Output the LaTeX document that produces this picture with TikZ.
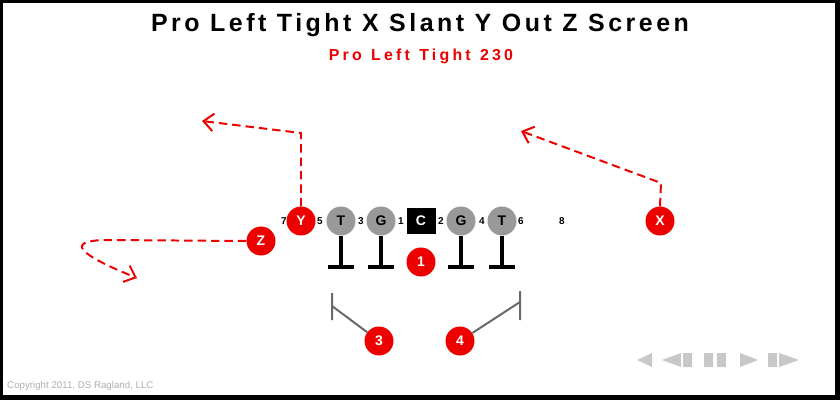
\documentclass[tikz,border=0pt]{standalone}
\usepackage{fontspec}
\setmainfont{Liberation Sans}
\usetikzlibrary{arrows.meta,positioning}
\definecolor{playred}{RGB}{236,0,0}
\definecolor{linegray}{RGB}{153,153,153}
\definecolor{rodgray}{RGB}{105,105,105}
\definecolor{navgray}{RGB}{200,200,200}
\definecolor{copygray}{RGB}{175,175,175}
\tikzset{off/.style={circle, fill=playred, text=white, inner sep=0pt, minimum size=0.87cm,
                     font=\fontsize{11.9}{12}\selectfont\bfseries},
         lineman/.style={circle, fill=linegray, text=black, inner sep=0pt, minimum size=0.87cm,
                     font=\fontsize{11.9}{12}\selectfont\bfseries},
         snap/.style={rectangle, fill=black, text=white, inner sep=0pt, minimum width=0.87cm,
                     minimum height=0.78cm, font=\fontsize{11.9}{12}\selectfont\bfseries},
         gap/.style={inner sep=0pt, font=\fontsize{8.5}{9}\selectfont\bfseries},
         route/.style={draw=playred, line width=1.7pt, dash pattern=on 7.2pt off 4.25pt,
                     -{Straight Barb[length=8.5pt,width=15pt,line width=1.7pt]}},
         block/.style={draw=black, line width=2.6pt},
         rod/.style={draw=rodgray, line width=1.7pt},
         nav/.style={fill=navgray}
}

\begin{document}
\begin{tikzpicture}[x=0.03cm, y=-0.03cm]
       \fill[black] (0,0) rectangle (840,400);
       \fill[white] (3,3) rectangle (835,395);
       \node[anchor=base] (title) at (420,32)
            {\fontsize{21.3}{22}\selectfont\bfseries\addfontfeature{LetterSpace=14}\spaceskip=9pt Pro Left Tight X Slant Y Out Z Screen};
       \node[anchor=base, text=playred] (formation) at (421,61)
            {\fontsize{13.6}{14}\selectfont\bfseries\addfontfeature{LetterSpace=20}\spaceskip=8pt Pro Left Tight 230};
       \node[anchor=base west, text=copygray, inner sep=0pt] (copy) at (7,388)
            {\fontsize{8.3}{9}\selectfont Copyright 2011, DS Ragland, LLC};
       % offense
       \node[off] (Y) at (301,221) {Y};
       \node[lineman] (LT) at (341,221) {T};
       \node[lineman] (LG) at (381,221) {G};
       \node[snap] (C) at (421,221) {C};
       \node[lineman] (RG) at (461,221) {G};
       \node[lineman] (RT) at (502,221) {T};
       \node[off] (X) at (660,221) {X};
       \node[off] (Z) at (261,241) {Z};
       \node[off] (B1) at (421,262) {1};
       \node[off] (B3) at (379,341) {3};
       \node[off] (B4) at (460,341) {4};
       % holes
       \node[gap] (h7) at (284,221) {7};
       \node[gap] (h5) at (320,221) {5};
       \node[gap] (h3) at (361,221) {3};
       \node[gap] (h1) at (401,221) {1};
       \node[gap] (h2) at (441,221) {2};
       \node[gap] (h4) at (482,221) {4};
       \node[gap] (h6) at (521,221) {6};
       \node[gap] (h8) at (562,221) {8};
       % blocks
       \coordinate (LTb) at (341,267);
       \coordinate (LGb) at (381,267);
       \coordinate (RGb) at (461,267);
       \coordinate (RTb) at (502,267);
       \draw[block] (LT.south) -- (LTb) (LTb) ++(-13,0) -- ++(26,0);
       \draw[block] (LG.south) -- (LGb) (LGb) ++(-13,0) -- ++(26,0);
       \draw[block] (RG.south) -- (RGb) (RGb) ++(-13,0) -- ++(26,0);
       \draw[block] (RT.south) -- (RTb) (RTb) ++(-13,0) -- ++(26,0);
       \coordinate (B3r) at (332,306);
       \coordinate (B4r) at (520,302);
       \draw[rod] (B3) -- (B3r) (B3r) ++(0,-13) -- ++(0,27);
       \draw[rod] (B4) -- (B4r) (B4r) ++(0,-11) -- ++(0,29);
       % routes
       \coordinate (Ybreak) at (301,133);
       \coordinate (Yend) at (202,121);
       \draw[route] (Y.north) -- (Ybreak) -- (Yend);
       \coordinate (Xbreak) at (661,183);
       \coordinate (Xend) at (521,131);
       \draw[route] (X.north) -- (Xbreak) -- (Xend);
       \coordinate (Zturn) at (105,240);
       \coordinate (Zend) at (137,278);
       \draw[route] (Z.west) -- (Zturn) .. controls (64,241) and (80,255) .. (Zend);
       % player controls
       \fill[nav] (652,353) -- (652,367) -- (637,360) -- cycle;
       \fill[nav] (681,353) -- (681,367) -- (662,360) -- cycle (683,353) rectangle (692,367);
       \fill[nav] (704,353) rectangle (713,367) (717,353) rectangle (726,367);
       \fill[nav] (740,353) -- (740,367) -- (758,360) -- cycle;
       \fill[nav] (768,353) rectangle (777,367) (779,353) -- (779,367) -- (799,360) -- cycle;
    \end{tikzpicture}
\end{document}
